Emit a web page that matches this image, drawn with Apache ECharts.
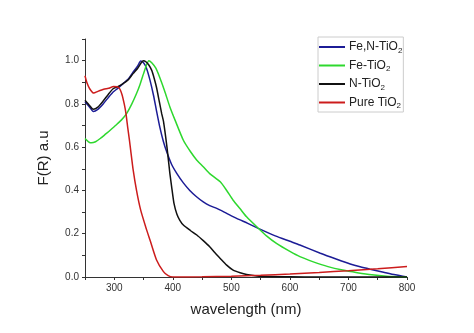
<!DOCTYPE html>
<html>
<head>
<meta charset="utf-8">
<script src="https://cdn.jsdelivr.net/npm/echarts@6/dist/echarts.min.js"></script>
<style>
  html, body { margin: 0; padding: 0; background: #fff; }
  #main { width: 474px; height: 333px; }
</style>
</head>
<body>
<div id="main"></div>
<script>
// 图例名称
const seriesNames = ['Fe,N-TiO2', 'Fe-TiO2', 'N-TiO2', 'Pure TiO2']

// Fe,N-TiO2 (blue)
const feNWave = [250, 258, 264, 272, 281, 290, 298, 306, 315, 324, 332, 340, 345, 350, 355, 361, 367, 372, 378, 384, 390, 398, 407, 418, 429, 440, 452, 463, 475, 492, 509, 528, 546, 575, 600, 617, 652, 680, 703, 720, 737, 760, 780, 800]
const feNVal = [0.81, 0.785, 0.765, 0.775, 0.8, 0.83, 0.855, 0.872, 0.894, 0.915, 0.947, 0.975, 0.998, 0.99, 0.965, 0.91, 0.84, 0.77, 0.69, 0.625, 0.575, 0.52, 0.478, 0.435, 0.4, 0.372, 0.347, 0.33, 0.317, 0.294, 0.271, 0.248, 0.225, 0.19, 0.165, 0.148, 0.11, 0.082, 0.06, 0.047, 0.036, 0.022, 0.01, 0.0]

// Fe-TiO2 (green)
const feWave = [250, 256, 261, 268, 276, 285, 293, 302, 312, 321, 330, 338, 344, 350, 355, 359, 364, 371, 378, 386, 395, 404, 418, 430, 441, 452, 463, 481, 492, 503, 515, 526, 546, 560, 577, 600, 617, 640, 665, 690, 715, 740, 765, 800]
const feVal = [0.64, 0.625, 0.62, 0.625, 0.64, 0.66, 0.678, 0.7, 0.725, 0.755, 0.8, 0.848, 0.89, 0.94, 0.98, 1.0, 0.99, 0.965, 0.92, 0.86, 0.786, 0.724, 0.632, 0.58, 0.54, 0.51, 0.478, 0.44, 0.4, 0.355, 0.315, 0.278, 0.225, 0.19, 0.155, 0.118, 0.094, 0.07, 0.048, 0.032, 0.02, 0.01, 0.004, 0.0]

// N-TiO2 (black)
const nWave = [250, 257, 264, 272, 281, 290, 298, 306, 315, 324, 332, 340, 346, 350, 354, 359, 364, 368, 372, 377, 381, 384, 390, 395, 398, 402, 407, 412, 418, 430, 441, 452, 463, 472, 481, 492, 503, 515, 526, 543, 560, 600, 650, 700, 800]
const nVal = [0.817, 0.795, 0.775, 0.785, 0.813, 0.845, 0.87, 0.88, 0.894, 0.912, 0.94, 0.965, 0.99, 1.0, 0.995, 0.98, 0.955, 0.92, 0.878, 0.81, 0.755, 0.72, 0.6, 0.478, 0.417, 0.34, 0.29, 0.262, 0.24, 0.215, 0.194, 0.168, 0.14, 0.112, 0.086, 0.055, 0.032, 0.02, 0.012, 0.005, 0.002, 0.001, 0.0, 0.0, 0.0]

// Pure TiO2 (red)
const pureWave = [250, 253, 258, 265, 272, 282, 290, 299, 308, 313, 317, 320, 323, 326, 328, 332, 338, 345, 355, 361, 372, 384, 392, 400, 450, 500, 550, 600, 650, 700, 750, 800]
const pureVal = [0.93, 0.9, 0.87, 0.85, 0.858, 0.868, 0.872, 0.88, 0.875, 0.845, 0.8, 0.755, 0.69, 0.63, 0.586, 0.5, 0.4, 0.31, 0.22, 0.171, 0.08, 0.025, 0.006, 0.0, 0.001, 0.003, 0.008, 0.014, 0.021, 0.029, 0.038, 0.048]

const lineColors = ['#1c1c96', '#2ed82e', '#111111', '#cc1c1c']

function zip(xs, ys) {
  return xs.map((x, i) => [x, ys[i]])
}

const allData = [
  zip(feNWave, feNVal),
  zip(feWave, feVal),
  zip(nWave, nVal),
  zip(pureWave, pureVal),
]

const font = 'Liberation Sans, Arial, sans-serif'

const option = {
  animation: false,
  backgroundColor: '#fff',
  grid: { left: 85, right: 67, top: 39, bottom: 56 },
  legend: {
    orient: 'vertical',
    left: 318,
    top: 37,
    padding: [3, 1, 2, 1],
    itemGap: 4,
    itemWidth: 26,
    itemHeight: 2,
    icon: 'rect',
    borderColor: '#cccccc',
    borderWidth: 1,
    backgroundColor: '#fff',
    data: seriesNames,
    formatter: (name) => name.replace(/2$/, '{sub|2}'),
    textStyle: {
      fontFamily: font,
      fontSize: 12,
      color: '#222',
      lineHeight: 14,
      padding: [0, 0, 0, -1],
      rich: {
        sub: { fontFamily: font, fontSize: 8, color: '#222', padding: [7, 0, 0, 0] },
      },
    },
  },
  xAxis: {
    type: 'value',
    min: 250,
    max: 800,
    interval: 50,
    name: 'wavelength (nm)',
    nameLocation: 'middle',
    nameGap: 25,
    nameTextStyle: { fontFamily: font, fontSize: 15, color: '#222', verticalAlign: 'top' },
    axisLine: { lineStyle: { color: '#333', width: 1 } },
    axisTick: { length: 3, lineStyle: { color: '#333' } },
    splitLine: { show: false },
    axisLabel: {
      fontFamily: font,
      fontSize: 10,
      color: '#333',
      margin: 6,
      formatter: (v) => (v % 100 === 0 ? String(v) : ''),
    },
  },
  yAxis: {
    type: 'value',
    min: 0,
    max: 1.1,
    interval: 0.1,
    name: 'F(R) a.u',
    nameLocation: 'middle',
    nameGap: 34,
    nameTextStyle: { fontFamily: font, fontSize: 15, color: '#222' },
    axisLine: { show: true, lineStyle: { color: '#333', width: 1 } },
    axisTick: { show: true, length: 3, lineStyle: { color: '#333' } },
    splitLine: { show: false },
    axisLabel: {
      fontFamily: font,
      fontSize: 10,
      color: '#333',
      margin: 6,
      formatter: (v) => {
        const k = Math.round(v * 10)
        return k % 2 === 0 ? (k / 10).toFixed(1) : ''
      },
    },
  },
  series: seriesNames.map((name, i) => ({
    name: name,
    type: 'line',
    data: allData[i],
    showSymbol: false,
    smooth: 0.2,
    lineStyle: { color: lineColors[i], width: 1.5 },
    itemStyle: { color: lineColors[i] },
  })),
}

const chart = echarts.init(document.getElementById('main'), null, { renderer: 'canvas' })
chart.setOption(option)
</script>
</body>
</html>
